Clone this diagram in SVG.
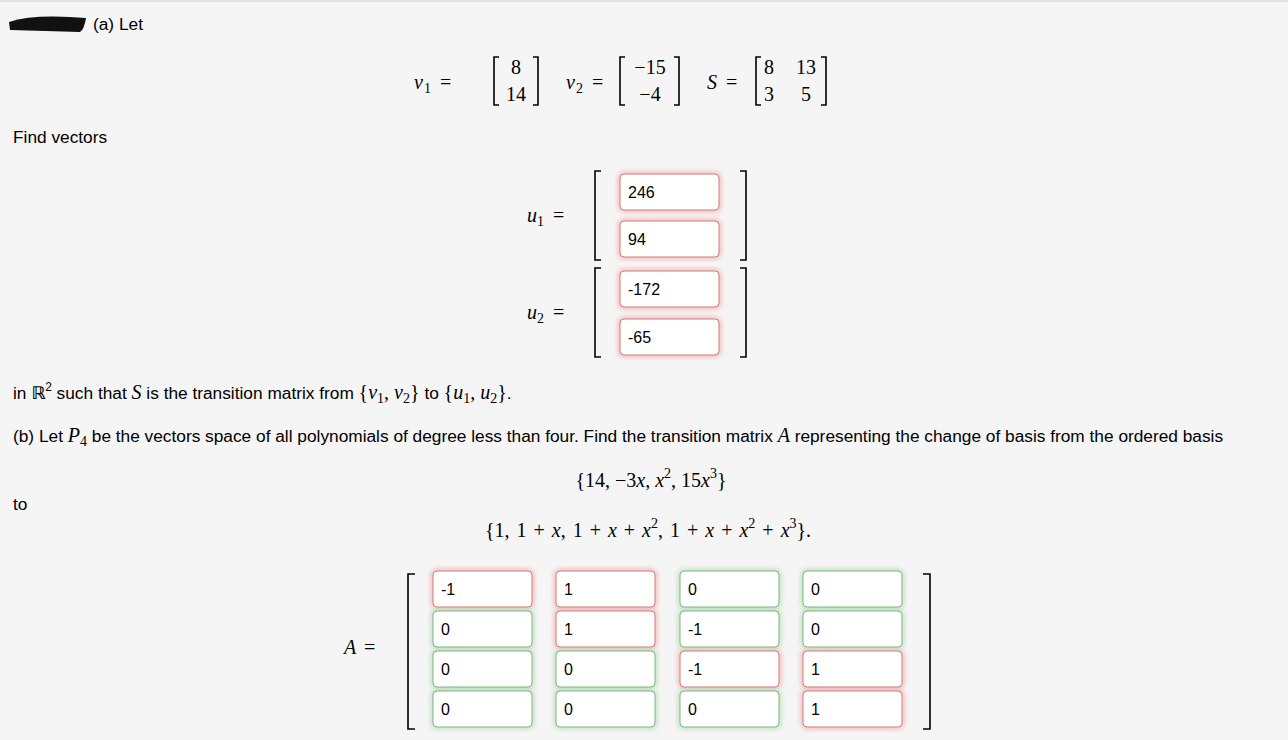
<svg xmlns="http://www.w3.org/2000/svg" width="1288" height="740" viewBox="0 0 1288 740">
<defs>
<filter id="gr" x="-20%" y="-40%" width="140%" height="180%"><feGaussianBlur stdDeviation="2.5"/></filter>
<style>
.t{font-family:"Liberation Sans",Arial,sans-serif;font-size:17.3px;fill:#000}
.m{font-family:"Liberation Serif","Times New Roman",serif;font-size:20px;fill:#000}
.i{font-style:italic}
.s{font-size:14px}
.box{fill:#fff;stroke-width:1}
.red{stroke:#d47a7a}
.grn{stroke:#7fb47f}
.gred{fill:none;stroke:#f0b0b0;stroke-width:4}
.ggrn{fill:none;stroke:#b8dcb8;stroke-width:4}
.br{fill:none;stroke:#000;stroke-width:1.6}
.v{font-family:"Liberation Sans",Arial,sans-serif;font-size:16px;fill:#000}
</style>
</defs>
<rect width="1288" height="740" fill="#f5f5f5"/>
<line x1="0" y1="1" x2="1288" y2="1" stroke="#e2e2e2" stroke-width="2"/>
<path d="M9,22 Q30,15 70,17 L86,18 Q84,30 80,32 L10,30 Z" fill="#111"/>
<text class="t" x="93" y="30">(a) Let</text>
<g id="given">
<text class="m i" x="414" y="89">v</text><text class="m s" x="424" y="93">1</text><text class="m" x="440" y="89">=</text>
<path class="br" d="M499,57 h-5 v48 h5 M533,57 h5 v48 h-5"/>
<text class="m" x="516" y="74" text-anchor="middle">8</text><text class="m" x="516" y="101" text-anchor="middle">14</text>
<text class="m i" x="566" y="89">v</text><text class="m s" x="576" y="93">2</text><text class="m" x="592" y="89">=</text>
<path class="br" d="M625,57 h-5 v48 h5 M674,57 h5 v48 h-5"/>
<text class="m" x="650" y="74" text-anchor="middle">−15</text><text class="m" x="650" y="101" text-anchor="middle">−4</text>
<text class="m i" x="707" y="89">S</text><text class="m" x="726" y="89">=</text>
<path class="br" d="M761,57 h-5 v48 h5 M821,57 h5 v48 h-5"/>
<text class="m" x="769" y="74" text-anchor="middle">8</text><text class="m" x="806" y="74" text-anchor="middle">13</text>
<text class="m" x="769" y="101" text-anchor="middle">3</text><text class="m" x="806" y="101" text-anchor="middle">5</text>
</g>
<text class="t" x="13" y="143">Find vectors</text>
<g id="u">
<text class="m i" x="527" y="222">u</text><text class="m s" x="537" y="226">1</text><text class="m" x="553" y="222">=</text>
<text class="m i" x="527" y="319">u</text><text class="m s" x="537" y="323">2</text><text class="m" x="553" y="319">=</text>
<path class="br" d="M601,171 h-6 v89 h6 M740,171 h6 v89 h-6 M601,268 h-6 v89 h6 M740,268 h6 v89 h-6"/>
<g class="gred"><rect x="620" y="174" width="99" height="36" rx="4" filter="url(#gr)"/><rect x="620" y="221" width="99" height="36" rx="4" filter="url(#gr)"/><rect x="620" y="271" width="99" height="36" rx="4" filter="url(#gr)"/><rect x="620" y="319" width="99" height="36" rx="4" filter="url(#gr)"/></g>
<g class="box red"><rect x="620" y="174" width="99" height="36" rx="4"/><rect x="620" y="221" width="99" height="36" rx="4"/><rect x="620" y="271" width="99" height="36" rx="4"/><rect x="620" y="319" width="99" height="36" rx="4"/></g>
<text class="v" x="628" y="198">246</text><text class="v" x="628" y="245">94</text><text class="v" x="628" y="295">-172</text><text class="v" x="628" y="343">-65</text>
</g>
<text class="t" x="13" y="399">in <tspan font-family="DejaVu Sans" font-weight="bold">ℝ</tspan><tspan font-size="12" dy="-8">2</tspan><tspan dy="8"> such that </tspan><tspan class="m i">S</tspan> is the transition matrix from <tspan class="m">{</tspan><tspan class="m i">v</tspan><tspan class="m s" dy="4">1</tspan><tspan class="m" dy="-4">, </tspan><tspan class="m i">v</tspan><tspan class="m s" dy="4">2</tspan><tspan class="m" dy="-4">}</tspan> to <tspan class="m">{</tspan><tspan class="m i">u</tspan><tspan class="m s" dy="4">1</tspan><tspan class="m" dy="-4">, </tspan><tspan class="m i">u</tspan><tspan class="m s" dy="4">2</tspan><tspan class="m" dy="-4">}</tspan>.</text>
<text class="t" x="13" y="442">(b) Let <tspan class="m i">P</tspan><tspan class="m s" dy="4">4</tspan><tspan dy="-4"> be the vectors space of all polynomials of degree less than four. Find the transition matrix </tspan><tspan class="m i">A</tspan> representing the change of basis from the ordered basis</text>
<text class="m" x="651" y="487" text-anchor="middle" font-size="23" font-weight="bold" style="font-weight:normal">{14, −3<tspan class="i">x</tspan>, <tspan class="i">x</tspan><tspan class="s" dy="-9">2</tspan><tspan dy="9">, 15</tspan><tspan class="i">x</tspan><tspan class="s" dy="-9">3</tspan><tspan dy="9">}</tspan></text>
<text class="t" x="13" y="510">to</text>
<text class="m" x="648" y="537" text-anchor="middle" font-size="23" word-spacing="2">{1, 1 + <tspan class="i">x</tspan>, 1 + <tspan class="i">x</tspan> + <tspan class="i">x</tspan><tspan class="s" dy="-9">2</tspan><tspan dy="9">, 1 + </tspan><tspan class="i">x</tspan> + <tspan class="i">x</tspan><tspan class="s" dy="-9">2</tspan><tspan dy="9"> + </tspan><tspan class="i">x</tspan><tspan class="s" dy="-9">3</tspan><tspan dy="9">}.</tspan></text>
<g id="A">
<text class="m i" x="344" y="654">A</text><text class="m" x="364" y="654">=</text>
<path class="br" d="M415,574 h-7 v155 h7 M923,574 h7 v155 h-7"/>
<g class="gred"><rect x="433" y="571" width="99" height="36" rx="4" filter="url(#gr)"/><rect x="556" y="571" width="99" height="36" rx="4" filter="url(#gr)"/><rect x="556" y="611" width="99" height="36" rx="4" filter="url(#gr)"/><rect x="680" y="651" width="99" height="36" rx="4" filter="url(#gr)"/><rect x="803" y="651" width="99" height="36" rx="4" filter="url(#gr)"/><rect x="803" y="691" width="99" height="36" rx="4" filter="url(#gr)"/></g>
<g class="ggrn"><rect x="433" y="611" width="99" height="36" rx="4" filter="url(#gr)"/><rect x="433" y="651" width="99" height="36" rx="4" filter="url(#gr)"/><rect x="433" y="691" width="99" height="36" rx="4" filter="url(#gr)"/><rect x="556" y="651" width="99" height="36" rx="4" filter="url(#gr)"/><rect x="556" y="691" width="99" height="36" rx="4" filter="url(#gr)"/><rect x="680" y="571" width="99" height="36" rx="4" filter="url(#gr)"/><rect x="680" y="611" width="99" height="36" rx="4" filter="url(#gr)"/><rect x="680" y="691" width="99" height="36" rx="4" filter="url(#gr)"/><rect x="803" y="571" width="99" height="36" rx="4" filter="url(#gr)"/><rect x="803" y="611" width="99" height="36" rx="4" filter="url(#gr)"/></g>
<g class="box red"><rect x="433" y="571" width="99" height="36" rx="4"/><rect x="556" y="571" width="99" height="36" rx="4"/><rect x="556" y="611" width="99" height="36" rx="4"/><rect x="680" y="651" width="99" height="36" rx="4"/><rect x="803" y="651" width="99" height="36" rx="4"/><rect x="803" y="691" width="99" height="36" rx="4"/></g>
<g class="box grn"><rect x="433" y="611" width="99" height="36" rx="4"/><rect x="433" y="651" width="99" height="36" rx="4"/><rect x="433" y="691" width="99" height="36" rx="4"/><rect x="556" y="651" width="99" height="36" rx="4"/><rect x="556" y="691" width="99" height="36" rx="4"/><rect x="680" y="571" width="99" height="36" rx="4"/><rect x="680" y="611" width="99" height="36" rx="4"/><rect x="680" y="691" width="99" height="36" rx="4"/><rect x="803" y="571" width="99" height="36" rx="4"/><rect x="803" y="611" width="99" height="36" rx="4"/></g>
<g class="v">
<text x="441" y="595">-1</text><text x="441" y="635">0</text><text x="441" y="675">0</text><text x="441" y="715">0</text>
<text x="564" y="595">1</text><text x="564" y="635">1</text><text x="564" y="675">0</text><text x="564" y="715">0</text>
<text x="688" y="595">0</text><text x="688" y="635">-1</text><text x="688" y="675">-1</text><text x="688" y="715">0</text>
<text x="811" y="595">0</text><text x="811" y="635">0</text><text x="811" y="675">1</text><text x="811" y="715">1</text>
</g>
</g>
</svg>
